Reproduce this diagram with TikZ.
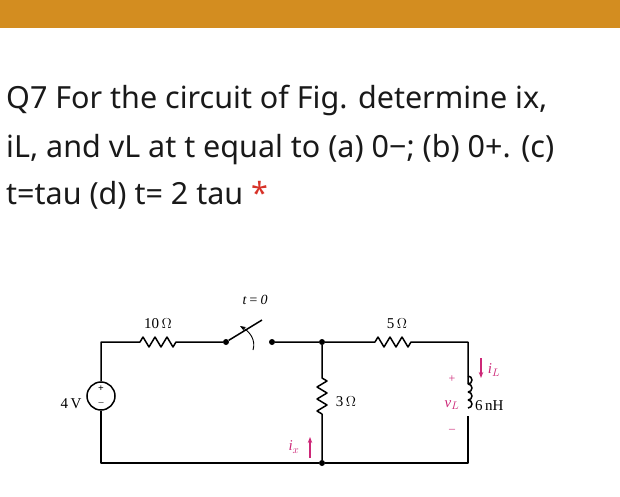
\documentclass[tikz,border=0pt]{standalone}
\usepackage{fontspec}
\setmainfont{Liberation Serif}
\newfontfamily\qfont{Noto Sans}
\usetikzlibrary{arrows.meta}
\definecolor{bar}{RGB}{211,141,32}
\definecolor{mag}{RGB}{205,40,120}
\definecolor{star}{RGB}{215,50,40}
\tikzset{w/.style={line width=1.5pt,line join=round},
 dot/.style={circle,fill=black,inner sep=0pt,minimum size=6pt},
 lbl/.style={font=\fontsize{15}{15}\selectfont,inner sep=1pt},
 mlbl/.style={font=\fontsize{15}{15}\selectfont\itshape,text=mag,inner sep=1pt},
 q/.style={font=\qfont\fontsize{30.5}{30.5}\selectfont,anchor=west,inner sep=0pt,text=black!90}}
\begin{document}
\begin{tikzpicture}[x=1pt,y=-1pt]
\useasboundingbox (0,0) rectangle (620,496);
\fill[bar] (0,0) rectangle (620,28);
\node[q] (l1) at (6,100) {Q7 For the circuit of Fig. determine ix,};
\node[q] (l2) at (6,150) {iL, and vL at t equal to (a) 0−; (b) 0+. (c)};
\node[q] (l3) at (6,195) {t=tau (d) t= 2 tau \textcolor{star}{*}};
% nodes
\coordinate (tl) at (101,342); \coordinate (bl) at (101,463);
\node[dot] (sa) at (226,342) {}; \node[dot] (sb) at (272,342) {};
\node[dot] (jt) at (322,342) {}; \node[dot] (jb) at (322,463) {};
\coordinate (tr) at (468,342); \coordinate (br) at (468,463);
\node[draw,circle,line width=1.5pt,minimum size=28pt,inner sep=0pt] (src) at (101,396) {};
\node[font=\fontsize{10}{10}\selectfont\bfseries] at (101,389) {+};
\node[font=\fontsize{10}{10}\selectfont] at (101,404) {--};
% wires
\draw[w] (src.north) -- (tl) -- (140,342) -- ++(3,-5) -- ++(6,10) -- ++(6,-10) -- ++(6,10) -- ++(6,-10) -- ++(6,10) -- ++(3,-5) -- (sa);
\draw[w] (sa) -- (262,320);
\draw[-{Stealth[length=6pt]},line width=0.9pt] (253,350) .. controls (256,340) and (250,332) .. (240,326);
\draw[w] (sb) -- (jt) -- (375,342) -- ++(3,-5) -- ++(6,10) -- ++(6,-10) -- ++(6,10) -- ++(6,-10) -- ++(6,10) -- ++(3,-5) -- (tr) -- (468,384);
\foreach \i in {0,1,2,3} \draw[w] (468,384+8*\i) arc[start angle=90,end angle=-90,radius=4];
\draw[w] (468,416) -- (br) -- (jb) -- (bl) -- (src.south);
\draw[w] (jt) -- (322,378) -- ++(5,3) -- ++(-10,6) -- ++(10,6) -- ++(-10,6) -- ++(10,6) -- ++(-10,6) -- ++(5,3) -- (jb);
% labels
\node[lbl] at (158,324) {10\,$\Omega$};
\node[lbl] at (397,324) {5\,$\Omega$};
\node[lbl,font=\fontsize{14}{14}\selectfont\itshape] at (255,300) {t\,=\,0};
\node[lbl] at (346,402) {3\,$\Omega$};
\node[lbl] at (71,404) {4\,V};
\node[lbl,anchor=west] at (474,406) {6\,nH};
\node[mlbl] at (452,405) {v$_L$};
\node[text=mag,font=\fontsize{12}{12}\selectfont] at (452,379) {+};
\node[text=mag,font=\fontsize{12}{12}\selectfont] at (452,431) {--};
\node[mlbl] at (294,447) {i$_x$};
\draw[mag,-{Stealth[length=6pt]},line width=1.1pt] (310,458) -- (310,437);
\draw[mag,-{Stealth[length=6pt]},line width=1.1pt] (481,358) -- (481,378);
\node[mlbl] at (494,370) {i$_L$};
\end{tikzpicture}
\end{document}
